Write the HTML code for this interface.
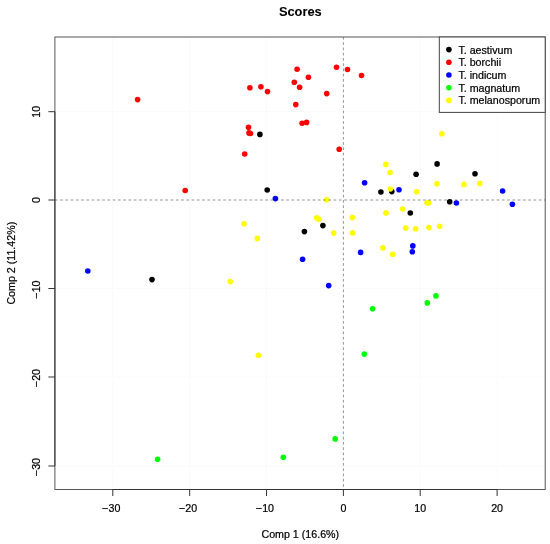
<!DOCTYPE html>
<html><head><meta charset="utf-8"><title>Scores</title>
<style>
html,body{margin:0;padding:0;background:#fff}
svg{display:block}
text{font-family:"Liberation Sans",Arial,Helvetica,sans-serif;fill:#000;stroke:#000;stroke-width:0.22px}
.t{font-size:10.68px}
</style></head><body>
<svg width="550" height="544" viewBox="0 0 550 544">
<rect width="550" height="544" fill="#fff"/>
<g stroke="#f6f6f6" stroke-width="1" stroke-dasharray="1 1" fill="none">
<line x1="112.8" y1="37.0" x2="112.8" y2="489.5"/>
<line x1="189.7" y1="37.0" x2="189.7" y2="489.5"/>
<line x1="266.5" y1="37.0" x2="266.5" y2="489.5"/>
<line x1="343.4" y1="37.0" x2="343.4" y2="489.5"/>
<line x1="420.2" y1="37.0" x2="420.2" y2="489.5"/>
<line x1="497.1" y1="37.0" x2="497.1" y2="489.5"/>
<line x1="54.9" y1="111.7" x2="545.2" y2="111.7"/>
<line x1="54.9" y1="200.0" x2="545.2" y2="200.0"/>
<line x1="54.9" y1="288.5" x2="545.2" y2="288.5"/>
<line x1="54.9" y1="377.0" x2="545.2" y2="377.0"/>
<line x1="54.9" y1="466.0" x2="545.2" y2="466.0"/>
</g>
<g fill="#000">
<circle cx="259.9" cy="134.4" r="2.8"/>
<circle cx="267.2" cy="190.0" r="2.8"/>
<circle cx="380.9" cy="192.0" r="2.8"/>
<circle cx="391.8" cy="191.6" r="2.8"/>
<circle cx="437.1" cy="163.9" r="2.8"/>
<circle cx="416.1" cy="174.2" r="2.8"/>
<circle cx="475.0" cy="173.7" r="2.8"/>
<circle cx="449.7" cy="201.8" r="2.8"/>
<circle cx="410.3" cy="213.0" r="2.8"/>
<circle cx="322.9" cy="225.6" r="2.8"/>
<circle cx="304.4" cy="231.6" r="2.8"/>
<circle cx="152.0" cy="279.6" r="2.8"/>
</g>
<g fill="#f00">
<circle cx="137.6" cy="99.6" r="2.8"/>
<circle cx="249.9" cy="87.8" r="2.8"/>
<circle cx="260.9" cy="86.8" r="2.8"/>
<circle cx="267.5" cy="91.6" r="2.8"/>
<circle cx="248.5" cy="127.3" r="2.8"/>
<circle cx="249.0" cy="132.9" r="2.8"/>
<circle cx="250.5" cy="133.5" r="2.8"/>
<circle cx="244.7" cy="154.0" r="2.8"/>
<circle cx="185.2" cy="190.5" r="2.8"/>
<circle cx="297.1" cy="69.2" r="2.8"/>
<circle cx="308.4" cy="77.3" r="2.8"/>
<circle cx="294.3" cy="82.3" r="2.8"/>
<circle cx="299.6" cy="87.3" r="2.8"/>
<circle cx="336.5" cy="67.2" r="2.8"/>
<circle cx="347.5" cy="69.5" r="2.8"/>
<circle cx="361.5" cy="75.5" r="2.8"/>
<circle cx="326.7" cy="93.6" r="2.8"/>
<circle cx="295.8" cy="104.6" r="2.8"/>
<circle cx="302.1" cy="123.2" r="2.8"/>
<circle cx="306.6" cy="122.4" r="2.8"/>
<circle cx="339.2" cy="149.3" r="2.8"/>
</g>
<g fill="#00f">
<circle cx="275.4" cy="198.6" r="2.8"/>
<circle cx="364.6" cy="182.7" r="2.8"/>
<circle cx="399.0" cy="189.7" r="2.8"/>
<circle cx="360.6" cy="252.4" r="2.8"/>
<circle cx="302.6" cy="259.2" r="2.8"/>
<circle cx="502.6" cy="191.0" r="2.8"/>
<circle cx="456.4" cy="203.0" r="2.8"/>
<circle cx="512.4" cy="204.3" r="2.8"/>
<circle cx="412.8" cy="245.9" r="2.8"/>
<circle cx="412.3" cy="251.7" r="2.8"/>
<circle cx="87.8" cy="271.0" r="2.8"/>
<circle cx="328.7" cy="285.6" r="2.8"/>
</g>
<g fill="#0f0">
<circle cx="372.6" cy="308.7" r="2.8"/>
<circle cx="364.3" cy="354.1" r="2.8"/>
<circle cx="435.9" cy="295.9" r="2.8"/>
<circle cx="427.3" cy="302.9" r="2.8"/>
<circle cx="157.6" cy="459.2" r="2.8"/>
<circle cx="335.2" cy="438.9" r="2.8"/>
<circle cx="283.3" cy="457.2" r="2.8"/>
</g>
<g fill="#ff0">
<circle cx="441.9" cy="133.8" r="2.8"/>
<circle cx="244.1" cy="223.8" r="2.8"/>
<circle cx="257.4" cy="238.4" r="2.8"/>
<circle cx="385.9" cy="164.4" r="2.8"/>
<circle cx="390.0" cy="172.5" r="2.8"/>
<circle cx="390.3" cy="189.0" r="2.8"/>
<circle cx="326.7" cy="199.7" r="2.8"/>
<circle cx="316.7" cy="217.8" r="2.8"/>
<circle cx="318.7" cy="219.1" r="2.8"/>
<circle cx="333.7" cy="233.1" r="2.8"/>
<circle cx="352.3" cy="217.6" r="2.8"/>
<circle cx="352.5" cy="232.9" r="2.8"/>
<circle cx="386.0" cy="212.9" r="2.8"/>
<circle cx="402.6" cy="209.0" r="2.8"/>
<circle cx="405.7" cy="228.1" r="2.8"/>
<circle cx="382.9" cy="247.9" r="2.8"/>
<circle cx="392.7" cy="254.2" r="2.8"/>
<circle cx="436.9" cy="183.7" r="2.8"/>
<circle cx="464.0" cy="184.4" r="2.8"/>
<circle cx="479.8" cy="183.4" r="2.8"/>
<circle cx="416.6" cy="191.7" r="2.8"/>
<circle cx="427.0" cy="202.7" r="2.8"/>
<circle cx="428.6" cy="202.7" r="2.8"/>
<circle cx="415.6" cy="228.8" r="2.8"/>
<circle cx="428.9" cy="227.6" r="2.8"/>
<circle cx="439.7" cy="226.3" r="2.8"/>
<circle cx="230.3" cy="281.6" r="2.8"/>
<circle cx="258.4" cy="355.3" r="2.8"/>
</g>
<g stroke="#000" stroke-opacity="0.42" stroke-width="1" stroke-dasharray="2.63 2.63" fill="none">
<line x1="54.9" y1="200.0" x2="545.2" y2="200.0"/>
<line x1="343.4" y1="37.0" x2="343.4" y2="489.5"/>
</g>
<rect x="54.9" y="37.0" width="490.3" height="452.5" fill="none" stroke="#555" stroke-width="1"/>
<g stroke="#333" stroke-width="1" fill="none">
<line x1="112.8" y1="489.5" x2="497.1" y2="489.5"/>
<line x1="54.9" y1="111.7" x2="54.9" y2="466.0"/>
<line x1="112.8" y1="489.5" x2="112.8" y2="496.0"/>
<line x1="189.7" y1="489.5" x2="189.7" y2="496.0"/>
<line x1="266.5" y1="489.5" x2="266.5" y2="496.0"/>
<line x1="343.4" y1="489.5" x2="343.4" y2="496.0"/>
<line x1="420.2" y1="489.5" x2="420.2" y2="496.0"/>
<line x1="497.1" y1="489.5" x2="497.1" y2="496.0"/>
<line x1="48.4" y1="111.7" x2="54.9" y2="111.7"/>
<line x1="48.4" y1="200.0" x2="54.9" y2="200.0"/>
<line x1="48.4" y1="288.5" x2="54.9" y2="288.5"/>
<line x1="48.4" y1="377.0" x2="54.9" y2="377.0"/>
<line x1="48.4" y1="466.0" x2="54.9" y2="466.0"/>
</g>
<text class="t" x="111.1" y="511.6" text-anchor="middle">−<tspan dx="0.35">30</tspan></text>
<text class="t" x="188.0" y="511.6" text-anchor="middle">−<tspan dx="0.35">20</tspan></text>
<text class="t" x="264.8" y="511.6" text-anchor="middle">−<tspan dx="0.35">10</tspan></text>
<text class="t" x="343.4" y="511.6" text-anchor="middle">0</text>
<text class="t" x="420.2" y="511.6" text-anchor="middle">10</text>
<text class="t" x="497.1" y="511.6" text-anchor="middle">20</text>
<text class="t" transform="translate(40.2,111.7) rotate(-90)" text-anchor="middle">10</text>
<text class="t" transform="translate(40.2,200.0) rotate(-90)" text-anchor="middle">0</text>
<text class="t" transform="translate(40.2,289.7) rotate(-90)" text-anchor="middle">−<tspan dx="0.35">10</tspan></text>
<text class="t" transform="translate(40.2,378.2) rotate(-90)" text-anchor="middle">−<tspan dx="0.35">20</tspan></text>
<text class="t" transform="translate(40.2,467.2) rotate(-90)" text-anchor="middle">−<tspan dx="0.35">30</tspan></text>
<text class="t" x="300.3" y="537.5" text-anchor="middle">Comp 1 (16.6%)</text>
<text class="t" transform="translate(15.3,263.2) rotate(-90)" text-anchor="middle">Comp 2 (11.42%)</text>
<text x="300.3" y="15.9" text-anchor="middle" style="font-size:12.85px;font-weight:bold;stroke-width:0.06px">Scores</text>
<rect x="439.3" y="37.0" width="105.9" height="75.4" fill="#fff" stroke="#444" stroke-width="1"/>
<circle cx="448.9" cy="49.6" r="2.8" fill="#000"/>
<text class="t" x="458.4" y="53.5">T. aestivum</text>
<circle cx="448.9" cy="62.3" r="2.8" fill="#f00"/>
<text class="t" x="458.4" y="66.2">T. borchii</text>
<circle cx="448.9" cy="75.0" r="2.8" fill="#00f"/>
<text class="t" x="458.4" y="78.9">T. indicum</text>
<circle cx="448.9" cy="87.7" r="2.8" fill="#0f0"/>
<text class="t" x="458.4" y="91.6">T. magnatum</text>
<circle cx="448.9" cy="100.4" r="2.8" fill="#ff0"/>
<text class="t" x="458.4" y="104.3">T. melanosporum</text>
</svg></body></html>
